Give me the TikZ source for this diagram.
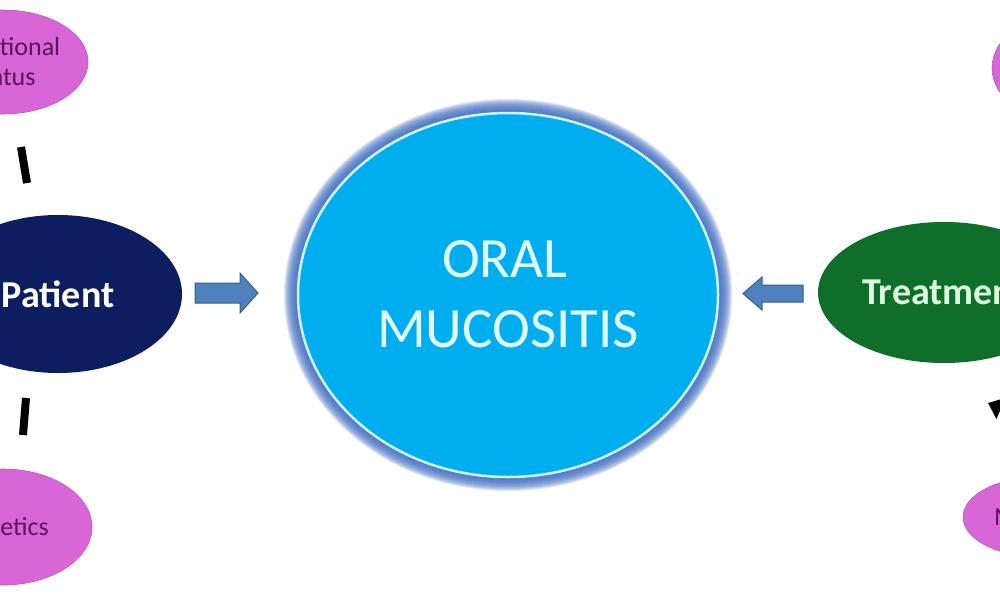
\documentclass[tikz,border=0pt]{standalone}
\usepackage{fontspec}
\setmainfont{Carlito}
\usetikzlibrary{arrows.meta,shapes.geometric}
\definecolor{pinkfill}{RGB}{217,102,214}
\definecolor{pinktext}{RGB}{92,18,92}
\definecolor{navyfill}{RGB}{12,30,95}
\definecolor{greenfill}{RGB}{14,110,42}
\definecolor{greentext}{RGB}{222,255,222}
\definecolor{cyanfill}{RGB}{0,174,239}
\definecolor{paleborder}{RGB}{205,245,255}
\definecolor{glowblue}{RGB}{70,114,196}
\definecolor{titletext}{RGB}{225,252,255}
\definecolor{arrowfill}{RGB}{79,129,189}
\definecolor{arrowline}{RGB}{56,93,138}
\tikzset{
  pinkell/.style={ellipse, fill=pinkfill, draw=pinkfill!85!black, line width=0.6pt, inner sep=0pt,
     text=pinktext, align=center, font=\fontsize{26}{30}\selectfont},
  bigell/.style={ellipse, inner sep=0pt, font=\bfseries\fontsize{38}{40}\selectfont},
  blockarrow/.style={fill=arrowfill, draw=arrowline, line width=1pt, line join=miter},
  heavydash/.style={line width=8pt, black},
  titlefont/.style={text=titletext, font=\fontsize{57}{70}\selectfont, inner sep=0pt, anchor=base}
}
\begin{document}
\begin{tikzpicture}[x=1pt,y=-1pt]
\useasboundingbox (0,0) rectangle (1000,600);
\fill[white] (0,0) rectangle (1000,600);
\clip (0,0) rectangle (1000,600);

% left column
\node[pinkell, minimum width=170pt, minimum height=104pt] (nut) at (3,62) {Nutritional\\Status};
\node[bigell, fill=navyfill, text=white, minimum width=248pt, minimum height=158pt] (pat) at (58,294) {Patient};
\node[pinkell, minimum width=178pt, minimum height=116pt] (gen) at (3,527) {Genetics};

\coordinate (d1a) at (21,147);
\coordinate (d1b) at (27,183);
\draw[heavydash] (d1a) -- (d1b);
\coordinate (d2a) at (26,398);
\coordinate (d2b) at (23,435);
\draw[heavydash] (d2a) -- (d2b);

% central circle with glow
\foreach \i in {1,...,14} {
  \fill[glowblue, opacity=0.17] (508,295) ellipse [x radius=210+\i, y radius=182+\i];
}
\node[ellipse, fill=cyanfill, draw=paleborder, line width=2.5pt, minimum width=420pt, minimum height=364pt, inner sep=0pt] (om) at (508,295) {};
\node[titlefont] (t1) at (505,277) {ORAL};
\node[titlefont] (t2) at (508,347) {MUCOSITIS};

% block arrows
\fill[blockarrow] (195,283) -- (240,283) -- (240,273) -- (258,293) -- (240,313) -- (240,303) -- (195,303) -- cycle;
\fill[blockarrow] (803,285) -- (762,285) -- (762,277) -- (743,293.5) -- (762,310) -- (762,302) -- (803,302) -- cycle;

% right column
\node[pinkell, minimum width=156pt, minimum height=110pt] (rtop) at (1070,68) {};
\node[bigell, fill=greenfill, text=greentext, minimum width=252pt, minimum height=141pt] (trt) at (944,292.5) {Treatment};
\node[pinkell, minimum width=154pt, minimum height=80pt] (rbot) at (1040,517) {};
\node[text=pinktext, font=\fontsize{26}{30}\selectfont, anchor=west, inner sep=0pt] (mtxt) at (994,517) {M};

\coordinate (d3a) at (1007,168);
\coordinate (d3b) at (1004,192);
\draw[heavydash] (d3a) -- (d3b);
\coordinate (d4a) at (1040,425);
\coordinate (d4b) at (988,403);
\draw[line width=7pt, black, -{Triangle[length=14pt,width=22pt]}] (d4a) -- (d4b);
\end{tikzpicture}
\end{document}
